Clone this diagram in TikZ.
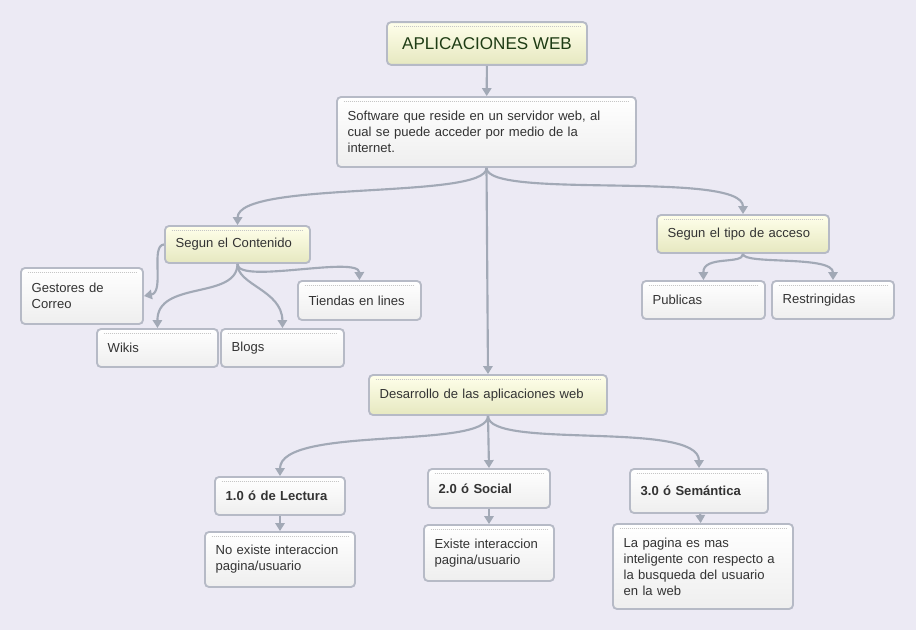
\documentclass[tikz,border=0pt]{standalone}
\usepackage{fontspec}
\setmainfont{Liberation Sans}
\usetikzlibrary{arrows.meta}
\definecolor{bg}{HTML}{ECEAF4}
\definecolor{bd}{HTML}{B6BAC6}
\definecolor{ln}{HTML}{A2A9B6}
\definecolor{tx}{HTML}{333333}
\tikzset{
 x=0.75pt,y=-0.75pt,
 box/.style={draw=bd,line width=1.4pt,rounded corners=3pt,top color=white,bottom color=gray!13,
   text=tx,font=\fontsize{9.8}{12}\selectfont,align=left,inner sep=0pt,anchor=center,yshift=-1.5pt,
   execute at begin node={\hyphenpenalty=10000 \exhyphenpenalty=10000 },
   path picture={\draw[densely dotted,gray!45,line width=0.5pt]([xshift=5pt,yshift=-3pt]path picture bounding box.north west)--([xshift=-5pt,yshift=-3pt]path picture bounding box.north east);}},
 ybox/.style={box,top color=yellow!8!white,bottom color={rgb,255:red,230;green,232;blue,192}},
 con/.style={draw=ln,line width=1.6pt,-{Triangle[length=6pt,width=7pt]}}
}
\newcommand{\bx}[6]{\node[#1,minimum width=#4*0.75pt,minimum height=#5*0.75pt,text width=#4*0.75pt-16pt] (#2) at #3 {#6};}
\begin{document}
\begin{tikzpicture}
\fill[bg] (0,0) rectangle (916,630);
\useasboundingbox (0,0) rectangle (916,630);
\node[ybox,yshift=1.5pt,minimum width=150pt,minimum height=32pt,align=center,font=\fontsize{12.8}{15}\selectfont,text={rgb,255:red,30;green,60;blue,20}] (t) at (487,43.5) {APLICACIONES WEB};
\bx{box}{d}{(486.5,130)}{299}{70}{Software que reside en un servidor web, al cual se puede acceder por medio de la\newline internet.}
\bx{ybox}{sc}{(237.5,242.5)}{145}{37}{Segun el Contenido}
\bx{ybox}{sa}{(743,232)}{172}{38}{Segun el tipo de acceso}
\bx{box}{g}{(82,294)}{122}{56}{Gestores de Correo}
\bx{box}{ti}{(359.5,298.5)}{123}{39}{Tiendas en lines}
\bx{box}{w}{(157.5,346)}{121}{38}{Wikis}
\bx{box}{b}{(282.5,346)}{123}{38}{Blogs}
\bx{box}{p}{(703.5,298)}{123}{38}{Publicas}
\bx{box}{r}{(833,298)}{122}{38}{Restringidas}
\bx{ybox}{de}{(488,393)}{238}{40}{Desarrollo de las aplicaciones web}
\bx{box}{u1}{(280,494)}{130}{38}{\textbf{1.0 ó de Lectura}}
\bx{box}{u2}{(489,486.5)}{122}{39}{\textbf{2.0 ó Social}}
\bx{box}{u3}{(699,489)}{138}{44}{\textbf{3.0 ó Semántica}}
\bx{box}{n1}{(280,557.5)}{150}{55}{No existe interaccion pagina/usuario}
\bx{box}{n2}{(489,551)}{130}{56}{Existe interaccion pagina/usuario}
\bx{box}{n3}{(703,564.5)}{180}{85}{La pagina es mas\newline inteligente con respecto a la busqueda del usuario en la web}
\draw[con] (t) -- (d);
\draw[con] (d.south) .. controls (487,200) and (238,180) .. (sc.north);
\draw[con] (d.south) .. controls (487,200) and (743,170) .. (sa.north);
\draw[con] (d.south) -- (de.north);
\draw[con] (sc.west) .. controls (150,245) and (165,292) .. (g.east);
\draw[con] (sc.south) .. controls (237,285) and (359,255) .. (ti.north);
\draw[con] (sc.south) .. controls (237,300) and (157,280) .. (w.north);
\draw[con] (sc.south) .. controls (237,285) and (282,290) .. (b.north);
\draw[con] (sa.south) .. controls (743,265) and (703,255) .. (p.north);
\draw[con] (sa.south) .. controls (743,265) and (833,255) .. (r.north);
\draw[con] (de.south) .. controls (488,450) and (280,425) .. (u1.north);
\draw[con] (de.south) -- (u2.north);
\draw[con] (de.south) .. controls (488,450) and (699,420) .. (u3.north);
\draw[con] (u1) -- (n1);
\draw[con] (u2) -- (n2);
\draw[con] (u3) -- (n3);
\end{tikzpicture}
\end{document}
